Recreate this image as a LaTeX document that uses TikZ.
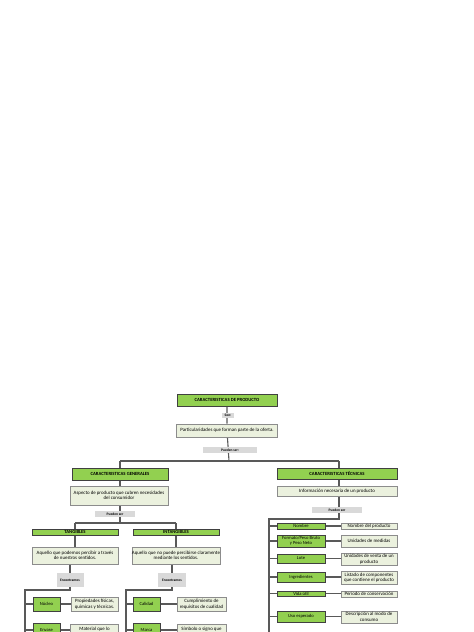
\documentclass[tikz,border=0pt]{standalone}
\usepackage{fontspec}
\setmainfont{Carlito}
\usepackage{tikz}
\usetikzlibrary{positioning,backgrounds}
\definecolor{hdrgreen}{HTML}{92D050}
\definecolor{paleinfo}{HTML}{EBF1DE}
\definecolor{taggray}{HTML}{D9D9D9}
\definecolor{linkgray}{HTML}{595959}

\begin{document}
\begin{tikzpicture}[x=1pt,y=-1pt,
    greenbox/.style={draw=black!75,fill=hdrgreen,line width=0.7pt,inner sep=0pt,align=center,
      font=\fontsize{4.7}{5.2}\selectfont\bfseries},
    infobox/.style={draw=black!45,fill=paleinfo,line width=0.6pt,inner sep=0pt,align=center,
      font=\fontsize{4.9}{5.6}\selectfont},
    tag/.style={fill=taggray,inner sep=0pt,align=center,font=\fontsize{3.6}{4}\selectfont\bfseries},
    link/.style={draw=linkgray,line width=1.1pt}]
    \useasboundingbox (0,0) rectangle (474,632);
    \clip (0,0) rectangle (474,632);

    \node[greenbox,minimum width=100pt,minimum height=12pt] (prod) at (227,400) {CARACTERISTICAS DE PRODUCTO};
    \node[tag,minimum width=12pt,minimum height=5pt] (son) at (228,415.5) {Son:};
    \node[infobox,minimum width=101pt,minimum height=13pt] (partic) at (227,430.5) {Particularidades que forman parte de la oferta.};
    \node[tag,minimum width=54pt,minimum height=6pt] (puedenA) at (230,450) {Pueden ser:};
    \coordinate (forkA) at (229,461);

    % caracteristicas generales
    \node[greenbox,minimum width=96pt,minimum height=12pt] (gen) at (120,474) {CARACTERISTICAS GENERALES};
    \node[infobox,minimum width=98pt,minimum height=19pt] (aspecto) at (119,495.5) {Aspecto de producto que cubren necesidades\\del consumidor};
    \node[tag,minimum width=40pt,minimum height=6pt] (puedenG) at (115,514) {Pueden ser};
    \coordinate (forkG) at (120,523);
    \node[greenbox,minimum width=86pt,minimum height=6pt] (tang) at (75,532) {TANGIBLES};
    \node[greenbox,minimum width=86pt,minimum height=6pt] (intang) at (176,532) {INTANGIBLES};
    \node[infobox,minimum width=86pt,minimum height=17pt] (aqT) at (75,555.5) {Aquello que podemos percibir a través\\de nuestros sentidos.};
    \node[infobox,minimum width=86pt,minimum height=17pt] (aqI) at (176,555.5) {Aquello que no puede percibirse claramente\\mediante los sentidos.};
    \node[tag,minimum width=27pt,minimum height=14pt] (encT) at (70,580) {Encontramos};
    \node[tag,minimum width=28pt,minimum height=14pt] (encI) at (172,580) {Encontramos};
    \coordinate (spineT) at (25,590);
    \coordinate (spineI) at (126,590);
    \node[greenbox,font=\fontsize{4.6}{5}\selectfont,minimum width=27pt,minimum height=14pt] (nucleo) at (46.5,604) {Núcleo};
    \node[infobox,minimum width=47pt,minimum height=14pt] (prop) at (94.5,604) {Propiedades físicas,\\químicas y técnicas.};
    \node[greenbox,font=\fontsize{4.6}{5}\selectfont,minimum width=27pt,minimum height=14pt] (calidad) at (146.5,604) {Calidad};
    \node[infobox,minimum width=49pt,minimum height=14pt] (cumpl) at (201.5,604) {Cumplimiento de\\requisitos de cualidad};
    \node[greenbox,font=\fontsize{4.6}{5}\selectfont,minimum width=27pt,minimum height=14pt] (envase) at (46.5,630) {Envase};
    \node[infobox,minimum width=48pt,minimum height=16pt] (envD) at (94.5,632) {Material que lo\\contiene};
    \node[greenbox,font=\fontsize{4.6}{5}\selectfont,minimum width=27pt,minimum height=14pt] (marca) at (146.5,630) {Marca};
    \node[infobox,minimum width=49pt,minimum height=16pt] (marcaD) at (201.5,632) {Símbolo o signo que\\identifica};
    \coordinate (endT) at (25,640);
    \coordinate (endI) at (126,640);

    % caracteristicas tecnicas
    \node[greenbox,minimum width=120pt,minimum height=11pt] (tec) at (337,474) {CARACTERISTICAS TÉCNICAS};
    \node[infobox,minimum width=120pt,minimum height=10pt] (info) at (337,491.5) {Información necesaria de un producto};
    \node[tag,minimum width=50pt,minimum height=6pt] (puedenT) at (337,510) {Pueden ser};
    \coordinate (forkT) at (339,519);
    \coordinate (spineR) at (269,519);
    \coordinate (endR) at (269,640);
    \tikzset{gitem/.style={greenbox,font=\fontsize{4.6}{5}\selectfont,minimum width=48pt},
      ditem/.style={infobox,minimum width=56pt}}
    \node[gitem,minimum height=6pt] (nombre) at (301,526) {Nombre};
    \node[gitem,minimum height=12pt] (formato) at (301,541) {Formato/Peso Bruto\\y Peso Neto};
    \node[gitem,minimum height=9pt] (lote) at (301,558.5) {Lote};
    \node[gitem,minimum height=10pt] (ingred) at (301,577) {Ingredientes};
    \node[gitem,minimum height=5pt] (vida) at (301,593.5) {Vida útil};
    \node[gitem,minimum height=11pt] (uso) at (301,616.5) {Uso esperado};
    \node[ditem,minimum height=6pt] (nombreD) at (369,526) {Nombre del producto};
    \node[ditem,minimum height=12pt] (formatoD) at (369,541) {Unidades de medidas};
    \node[ditem,minimum height=12pt] (loteD) at (369,559) {Unidades de venta de un\\producto};
    \node[ditem,minimum height=13pt] (ingredD) at (369,577.5) {Listado de componentes\\que contiene el producto};
    \node[ditem,minimum height=6pt] (vidaD) at (369,594) {Período de conservación};
    \node[ditem,minimum height=12pt] (usoD) at (369,617) {Descripción al modo de\\consumo};

    \begin{scope}[on background layer]
      \draw[link] (prod) -- (partic) -- (forkA);
      \draw[link] (gen.north |- forkA) -- (forkT |- forkA);
      \draw[link] (gen.north |- forkA) -- (gen.north);
      \draw[link] (forkT |- forkA) -- (forkT |- tec.north);
      \draw[link] (gen) -- (aspecto.north -| gen);
      \draw[link] (aspecto.south -| gen) -- (forkG);
      \draw[link] (tang.north |- forkG) -- (intang.north |- forkG);
      \draw[link] (tang.north |- forkG) -- (tang.north);
      \draw[link] (intang.north |- forkG) -- (intang.north);
      \draw[link] (tang) -- (aqT);
      \draw[link] (intang) -- (aqI);
      \draw[link] (aqT.south -| encT) -- (encT) -- (encT |- spineT) -- (spineT) -- (endT);
      \draw[link] (aqI.south -| encI) -- (encI) -- (encI |- spineI) -- (spineI) -- (endI);
      \foreach \g/\d in {nucleo/prop,envase/envD}
        \draw[link] (spineT |- \g.west) -- (\g.west) (\g.east) -- (\d.west |- \g.east);
      \foreach \g/\d in {calidad/cumpl,marca/marcaD}
        \draw[link] (spineI |- \g.west) -- (\g.west) (\g.east) -- (\d.west |- \g.east);
      \draw[link] (tec.south -| forkT) -- (forkT |- info.north);
      \draw[link] (info.south -| forkT) -- (forkT) -- (spineR) -- (endR);
      \foreach \g/\d in {nombre/nombreD,formato/formatoD,lote/loteD,ingred/ingredD,vida/vidaD,uso/usoD}
        \draw[link] (spineR |- \g.west) -- (\g.west) (\g.east) -- (\d.west |- \g.east);
    \end{scope}
\end{tikzpicture}
\end{document}
